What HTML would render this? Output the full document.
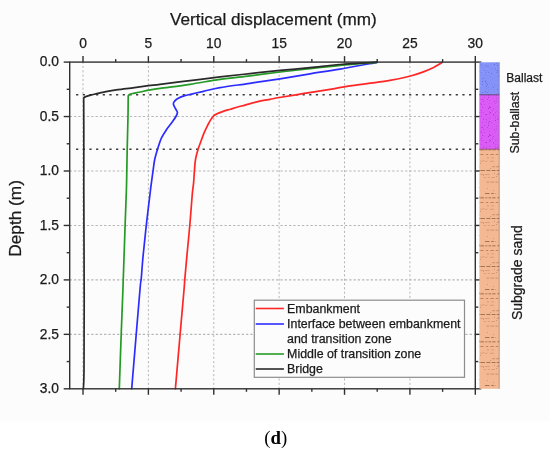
<!DOCTYPE html><html><head><meta charset="utf-8"><style>html,body{margin:0;padding:0;background:#fff;}svg{display:block}</style></head><body>
<svg width="550" height="449" viewBox="0 0 550 449">
<defs>
<pattern id="pb" width="20" height="32" patternUnits="userSpaceOnUse"><rect width="20" height="32" fill="#8593f8"/><rect x="10" y="9" width="1" height="1" fill="#a0a8ff" opacity="0.23"/><rect x="17" y="6" width="1" height="1" fill="#4e5ac8" opacity="0.56"/><rect x="6" y="2" width="1" height="1" fill="#5c68d6" opacity="0.37"/><rect x="7" y="5" width="1" height="1" fill="#a0a8ff" opacity="0.53"/><rect x="3" y="14" width="1" height="1" fill="#5c68d6" opacity="0.22"/><rect x="7" y="2" width="1" height="1" fill="#6a78e4" opacity="0.37"/><rect x="17" y="7" width="1" height="1" fill="#4e5ac8" opacity="0.24"/><rect x="18" y="12" width="1" height="1" fill="#4e5ac8" opacity="0.42"/><rect x="2" y="3" width="1" height="1" fill="#6a78e4" opacity="0.47"/><rect x="13" y="20" width="1" height="1" fill="#a0a8ff" opacity="0.34"/><rect x="7" y="11" width="1" height="1" fill="#6a78e4" opacity="0.43"/><rect x="16" y="31" width="1" height="1" fill="#4e5ac8" opacity="0.32"/><rect x="2" y="7" width="1" height="1" fill="#a0a8ff" opacity="0.50"/><rect x="4" y="31" width="1" height="1" fill="#a0a8ff" opacity="0.58"/><rect x="2" y="20" width="1" height="1" fill="#4e5ac8" opacity="0.44"/><rect x="18" y="29" width="1" height="1" fill="#5c68d6" opacity="0.58"/><rect x="15" y="4" width="1" height="1" fill="#5c68d6" opacity="0.46"/><rect x="14" y="18" width="1" height="1" fill="#a0a8ff" opacity="0.21"/><rect x="14" y="22" width="1" height="1" fill="#6a78e4" opacity="0.40"/><rect x="6" y="18" width="1" height="1" fill="#6a78e4" opacity="0.36"/><rect x="15" y="5" width="1" height="1" fill="#6a78e4" opacity="0.36"/><rect x="8" y="8" width="1" height="1" fill="#a0a8ff" opacity="0.48"/><rect x="11" y="24" width="1" height="1" fill="#6a78e4" opacity="0.23"/><rect x="4" y="14" width="1" height="1" fill="#6a78e4" opacity="0.39"/><rect x="18" y="11" width="1" height="1" fill="#4e5ac8" opacity="0.20"/><rect x="13" y="23" width="1" height="1" fill="#4e5ac8" opacity="0.48"/><rect x="16" y="3" width="1" height="1" fill="#a0a8ff" opacity="0.36"/><rect x="12" y="6" width="1" height="1" fill="#a0a8ff" opacity="0.22"/><rect x="2" y="13" width="1" height="1" fill="#a0a8ff" opacity="0.24"/><rect x="19" y="3" width="1" height="1" fill="#5c68d6" opacity="0.43"/><rect x="17" y="6" width="1" height="1" fill="#4e5ac8" opacity="0.23"/><rect x="6" y="24" width="1" height="1" fill="#6a78e4" opacity="0.58"/><rect x="19" y="23" width="1" height="1" fill="#a0a8ff" opacity="0.25"/><rect x="15" y="29" width="1" height="1" fill="#a0a8ff" opacity="0.32"/><rect x="4" y="6" width="1" height="1" fill="#4e5ac8" opacity="0.39"/><rect x="5" y="1" width="1" height="1" fill="#6a78e4" opacity="0.26"/><rect x="17" y="1" width="1" height="1" fill="#4e5ac8" opacity="0.48"/><rect x="8" y="23" width="1" height="1" fill="#6a78e4" opacity="0.51"/><rect x="17" y="21" width="1" height="1" fill="#6a78e4" opacity="0.52"/><rect x="12" y="14" width="1" height="1" fill="#6a78e4" opacity="0.34"/><rect x="0" y="1" width="1" height="1" fill="#4e5ac8" opacity="0.30"/><rect x="19" y="22" width="1" height="1" fill="#a0a8ff" opacity="0.58"/><rect x="11" y="5" width="1" height="1" fill="#6a78e4" opacity="0.29"/><rect x="6" y="21" width="1" height="1" fill="#6a78e4" opacity="0.45"/><rect x="19" y="0" width="1" height="1" fill="#a0a8ff" opacity="0.52"/><rect x="2" y="7" width="1" height="1" fill="#a0a8ff" opacity="0.39"/><rect x="5" y="27" width="1" height="1" fill="#4e5ac8" opacity="0.52"/><rect x="12" y="29" width="1" height="1" fill="#a0a8ff" opacity="0.49"/><rect x="5" y="8" width="1" height="1" fill="#5c68d6" opacity="0.44"/><rect x="14" y="9" width="1" height="1" fill="#a0a8ff" opacity="0.26"/><rect x="17" y="8" width="1" height="1" fill="#5c68d6" opacity="0.52"/><rect x="3" y="8" width="1" height="1" fill="#a0a8ff" opacity="0.53"/><rect x="6" y="1" width="1" height="1" fill="#4e5ac8" opacity="0.32"/><rect x="7" y="20" width="1" height="1" fill="#4e5ac8" opacity="0.53"/><rect x="1" y="22" width="1" height="1" fill="#a0a8ff" opacity="0.53"/><rect x="16" y="8" width="1" height="1" fill="#6a78e4" opacity="0.55"/><rect x="5" y="0" width="1" height="1" fill="#6a78e4" opacity="0.26"/><rect x="19" y="7" width="1" height="1" fill="#5c68d6" opacity="0.47"/><rect x="16" y="30" width="1" height="1" fill="#5c68d6" opacity="0.30"/><rect x="8" y="2" width="1" height="1" fill="#5c68d6" opacity="0.42"/><rect x="2" y="28" width="1" height="1" fill="#4e5ac8" opacity="0.48"/><rect x="14" y="30" width="1" height="1" fill="#6a78e4" opacity="0.57"/><rect x="6" y="28" width="1" height="1" fill="#6a78e4" opacity="0.25"/><rect x="14" y="20" width="1" height="1" fill="#5c68d6" opacity="0.37"/><rect x="6" y="19" width="1" height="1" fill="#5c68d6" opacity="0.58"/><rect x="11" y="9" width="1" height="1" fill="#4e5ac8" opacity="0.59"/><rect x="7" y="6" width="1" height="1" fill="#a0a8ff" opacity="0.27"/><rect x="7" y="10" width="1" height="1" fill="#a0a8ff" opacity="0.34"/><rect x="6" y="22" width="1" height="1" fill="#4e5ac8" opacity="0.49"/><rect x="0" y="21" width="1" height="1" fill="#a0a8ff" opacity="0.48"/><rect x="12" y="21" width="1" height="1" fill="#4e5ac8" opacity="0.25"/><rect x="7" y="6" width="1" height="1" fill="#5c68d6" opacity="0.31"/><rect x="5" y="17" width="1" height="1" fill="#6a78e4" opacity="0.54"/><rect x="8" y="25" width="1" height="1" fill="#6a78e4" opacity="0.48"/><rect x="2" y="17" width="1" height="1" fill="#5c68d6" opacity="0.37"/><rect x="2" y="17" width="1" height="1" fill="#5c68d6" opacity="0.52"/><rect x="2" y="14" width="1" height="1" fill="#5c68d6" opacity="0.55"/><rect x="14" y="0" width="1" height="1" fill="#4e5ac8" opacity="0.57"/><rect x="8" y="8" width="1" height="1" fill="#5c68d6" opacity="0.58"/><rect x="5" y="16" width="1" height="1" fill="#5c68d6" opacity="0.28"/><rect x="9" y="19" width="1" height="1" fill="#6a78e4" opacity="0.38"/><rect x="5" y="17" width="1" height="1" fill="#4e5ac8" opacity="0.60"/><rect x="1" y="0" width="1" height="1" fill="#5c68d6" opacity="0.41"/><rect x="7" y="28" width="1" height="1" fill="#5c68d6" opacity="0.46"/><rect x="17" y="25" width="1" height="1" fill="#4e5ac8" opacity="0.59"/><rect x="10" y="12" width="1" height="1" fill="#6a78e4" opacity="0.60"/><rect x="1" y="8" width="1" height="1" fill="#5c68d6" opacity="0.45"/><rect x="8" y="27" width="1" height="1" fill="#6a78e4" opacity="0.23"/><rect x="12" y="18" width="1" height="1" fill="#6a78e4" opacity="0.22"/><rect x="5" y="10" width="1" height="1" fill="#4e5ac8" opacity="0.20"/></pattern>
<pattern id="pm" width="20" height="28" patternUnits="userSpaceOnUse"><rect width="20" height="28" fill="#da5bf5"/><rect x="11" y="10" width="1" height="1" fill="#7a2696" opacity="0.21"/><rect x="9" y="6" width="1" height="1" fill="#7a2696" opacity="0.20"/><rect x="12" y="2" width="1" height="1" fill="#e070ff" opacity="0.40"/><rect x="6" y="7" width="1" height="1" fill="#8a2aa8" opacity="0.31"/><rect x="2" y="4" width="1" height="1" fill="#e070ff" opacity="0.36"/><rect x="9" y="9" width="1" height="1" fill="#9d3cbc" opacity="0.43"/><rect x="16" y="27" width="1" height="1" fill="#9d3cbc" opacity="0.51"/><rect x="15" y="4" width="1" height="1" fill="#7a2696" opacity="0.22"/><rect x="16" y="20" width="1" height="1" fill="#e070ff" opacity="0.56"/><rect x="16" y="18" width="1" height="1" fill="#8a2aa8" opacity="0.23"/><rect x="1" y="4" width="1" height="1" fill="#7a2696" opacity="0.35"/><rect x="14" y="17" width="1" height="1" fill="#8a2aa8" opacity="0.45"/><rect x="7" y="15" width="1" height="1" fill="#7a2696" opacity="0.38"/><rect x="2" y="23" width="1" height="1" fill="#8a2aa8" opacity="0.50"/><rect x="15" y="8" width="1" height="1" fill="#8a2aa8" opacity="0.29"/><rect x="6" y="7" width="1" height="1" fill="#e070ff" opacity="0.54"/><rect x="2" y="15" width="1" height="1" fill="#7a2696" opacity="0.45"/><rect x="6" y="2" width="1" height="1" fill="#9d3cbc" opacity="0.30"/><rect x="9" y="19" width="1" height="1" fill="#9d3cbc" opacity="0.39"/><rect x="15" y="8" width="1" height="1" fill="#8a2aa8" opacity="0.47"/><rect x="9" y="22" width="1" height="1" fill="#7a2696" opacity="0.39"/><rect x="3" y="17" width="1" height="1" fill="#9d3cbc" opacity="0.59"/><rect x="15" y="0" width="1" height="1" fill="#7a2696" opacity="0.23"/><rect x="16" y="14" width="1" height="1" fill="#7a2696" opacity="0.28"/><rect x="6" y="2" width="1" height="1" fill="#8a2aa8" opacity="0.50"/><rect x="8" y="11" width="1" height="1" fill="#9d3cbc" opacity="0.55"/><rect x="11" y="7" width="1" height="1" fill="#e070ff" opacity="0.36"/><rect x="5" y="0" width="1" height="1" fill="#e070ff" opacity="0.36"/><rect x="4" y="13" width="1" height="1" fill="#7a2696" opacity="0.33"/><rect x="10" y="0" width="1" height="1" fill="#7a2696" opacity="0.54"/><rect x="3" y="6" width="1" height="1" fill="#8a2aa8" opacity="0.30"/><rect x="2" y="12" width="1" height="1" fill="#e070ff" opacity="0.34"/><rect x="13" y="24" width="1" height="1" fill="#7a2696" opacity="0.31"/><rect x="1" y="26" width="1" height="1" fill="#7a2696" opacity="0.30"/><rect x="8" y="13" width="1" height="1" fill="#7a2696" opacity="0.51"/><rect x="13" y="0" width="1" height="1" fill="#e070ff" opacity="0.49"/><rect x="1" y="23" width="1" height="1" fill="#e070ff" opacity="0.45"/><rect x="4" y="20" width="1" height="1" fill="#7a2696" opacity="0.22"/><rect x="17" y="4" width="1" height="1" fill="#9d3cbc" opacity="0.37"/><rect x="9" y="9" width="1" height="1" fill="#7a2696" opacity="0.36"/><rect x="7" y="9" width="1" height="1" fill="#e070ff" opacity="0.25"/><rect x="5" y="2" width="1" height="1" fill="#9d3cbc" opacity="0.42"/><rect x="14" y="10" width="1" height="1" fill="#e070ff" opacity="0.26"/><rect x="6" y="7" width="1" height="1" fill="#8a2aa8" opacity="0.34"/><rect x="2" y="10" width="1" height="1" fill="#9d3cbc" opacity="0.30"/><rect x="18" y="6" width="1" height="1" fill="#8a2aa8" opacity="0.35"/><rect x="16" y="6" width="1" height="1" fill="#e070ff" opacity="0.34"/><rect x="1" y="15" width="1" height="1" fill="#7a2696" opacity="0.25"/><rect x="16" y="16" width="1" height="1" fill="#9d3cbc" opacity="0.31"/><rect x="7" y="12" width="1" height="1" fill="#e070ff" opacity="0.37"/><rect x="9" y="27" width="1" height="1" fill="#8a2aa8" opacity="0.21"/><rect x="15" y="18" width="1" height="1" fill="#e070ff" opacity="0.23"/><rect x="16" y="27" width="1" height="1" fill="#e070ff" opacity="0.30"/><rect x="3" y="7" width="1" height="1" fill="#9d3cbc" opacity="0.41"/><rect x="3" y="26" width="1" height="1" fill="#e070ff" opacity="0.42"/><rect x="1" y="0" width="1" height="1" fill="#9d3cbc" opacity="0.43"/><rect x="1" y="20" width="1" height="1" fill="#7a2696" opacity="0.45"/><rect x="16" y="20" width="1" height="1" fill="#e070ff" opacity="0.24"/><rect x="9" y="16" width="1" height="1" fill="#9d3cbc" opacity="0.30"/><rect x="19" y="0" width="1" height="1" fill="#8a2aa8" opacity="0.60"/><rect x="8" y="10" width="1" height="1" fill="#9d3cbc" opacity="0.41"/><rect x="17" y="7" width="1" height="1" fill="#8a2aa8" opacity="0.48"/><rect x="9" y="1" width="1" height="1" fill="#8a2aa8" opacity="0.40"/><rect x="13" y="2" width="1" height="1" fill="#7a2696" opacity="0.47"/><rect x="11" y="7" width="1" height="1" fill="#e070ff" opacity="0.48"/><rect x="13" y="11" width="1" height="1" fill="#e070ff" opacity="0.20"/><rect x="9" y="23" width="1" height="1" fill="#8a2aa8" opacity="0.40"/><rect x="6" y="9" width="1" height="1" fill="#9d3cbc" opacity="0.39"/><rect x="8" y="24" width="1" height="1" fill="#7a2696" opacity="0.58"/><rect x="15" y="19" width="1" height="1" fill="#9d3cbc" opacity="0.39"/><rect x="1" y="19" width="1" height="1" fill="#9d3cbc" opacity="0.22"/><rect x="0" y="19" width="1" height="1" fill="#9d3cbc" opacity="0.22"/><rect x="1" y="5" width="1" height="1" fill="#e070ff" opacity="0.56"/><rect x="10" y="23" width="1" height="1" fill="#8a2aa8" opacity="0.57"/><rect x="10" y="6" width="1" height="1" fill="#9d3cbc" opacity="0.21"/><rect x="12" y="26" width="1" height="1" fill="#7a2696" opacity="0.38"/><rect x="3" y="0" width="1" height="1" fill="#8a2aa8" opacity="0.23"/><rect x="13" y="3" width="1" height="1" fill="#9d3cbc" opacity="0.34"/><rect x="9" y="26" width="1" height="1" fill="#e070ff" opacity="0.22"/><rect x="15" y="6" width="1" height="1" fill="#7a2696" opacity="0.28"/></pattern>
<pattern id="ps" width="20" height="48" patternUnits="userSpaceOnUse"><rect width="20" height="48" fill="#f4b993"/><rect x="5.0" y="1.0" width="4.4" height="0.9" fill="#84573a" opacity="0.8"/><rect x="11.3" y="1.0" width="2.6" height="0.9" fill="#84573a" opacity="0.8"/><rect x="0.2" y="5.4" width="4.0" height="0.9" fill="#84573a" opacity="0.8"/><rect x="5.4" y="5.4" width="2.0" height="0.9" fill="#84573a" opacity="0.8"/><rect x="8.5" y="5.4" width="2.6" height="0.9" fill="#84573a" opacity="0.8"/><rect x="12.1" y="5.4" width="3.4" height="0.9" fill="#84573a" opacity="0.8"/><rect x="17.8" y="5.4" width="3.6" height="0.9" fill="#84573a" opacity="0.8"/><rect x="0.4" y="10.0" width="3.2" height="0.9" fill="#84573a" opacity="0.6"/><rect x="6.0" y="10.0" width="2.2" height="0.9" fill="#84573a" opacity="0.6"/><rect x="10.4" y="10.0" width="3.5" height="0.9" fill="#84573a" opacity="0.6"/><rect x="15.8" y="10.0" width="2.3" height="0.9" fill="#84573a" opacity="0.6"/><rect x="19.5" y="10.0" width="2.2" height="0.9" fill="#84573a" opacity="0.6"/><rect x="6.8" y="13.4" width="2.2" height="0.9" fill="#84573a" opacity="0.3"/><rect x="11.2" y="13.4" width="2.8" height="0.9" fill="#84573a" opacity="0.3"/><rect x="-0.7" y="16.8" width="3.4" height="0.9" fill="#84573a" opacity="0.3"/><rect x="4.7" y="16.8" width="2.6" height="0.9" fill="#84573a" opacity="0.3"/><rect x="9.8" y="16.8" width="4.3" height="0.9" fill="#84573a" opacity="0.3"/><rect x="12.1" y="22.3" width="2.9" height="0.9" fill="#84573a" opacity="0.45"/><rect x="16.1" y="22.3" width="3.7" height="0.9" fill="#84573a" opacity="0.45"/><rect x="0.4" y="26.1" width="4.5" height="0.9" fill="#84573a" opacity="0.8"/><rect x="6.4" y="26.1" width="3.9" height="0.9" fill="#84573a" opacity="0.8"/><rect x="11.7" y="26.1" width="3.8" height="0.9" fill="#84573a" opacity="0.8"/><rect x="16.7" y="26.1" width="3.9" height="0.9" fill="#84573a" opacity="0.8"/><rect x="0.4" y="30.0" width="3.3" height="0.9" fill="#84573a" opacity="0.3"/><rect x="4.8" y="30.0" width="4.9" height="0.9" fill="#84573a" opacity="0.3"/><rect x="16.4" y="30.0" width="2.9" height="0.9" fill="#84573a" opacity="0.3"/><rect x="3.8" y="33.0" width="2.0" height="0.9" fill="#84573a" opacity="0.3"/><rect x="7.6" y="33.0" width="2.2" height="0.9" fill="#84573a" opacity="0.3"/><rect x="11.3" y="33.0" width="3.7" height="0.9" fill="#84573a" opacity="0.3"/><rect x="6.2" y="37.6" width="3.1" height="0.9" fill="#84573a" opacity="0.45"/><rect x="10.4" y="37.6" width="3.8" height="0.9" fill="#84573a" opacity="0.45"/><rect x="15.3" y="37.6" width="2.9" height="0.9" fill="#84573a" opacity="0.45"/><rect x="19.3" y="37.6" width="3.4" height="0.9" fill="#84573a" opacity="0.45"/><rect x="19.0" y="43.0" width="3.7" height="0.9" fill="#84573a" opacity="0.45"/><rect x="19" y="4" width="1" height="1" fill="#9a6a48" opacity="0.4"/><rect x="2" y="5" width="1" height="1" fill="#9a6a48" opacity="0.4"/><rect x="3" y="16" width="1" height="1" fill="#9a6a48" opacity="0.4"/><rect x="13" y="46" width="1" height="1" fill="#9a6a48" opacity="0.4"/><rect x="10" y="24" width="1" height="1" fill="#9a6a48" opacity="0.4"/><rect x="18" y="29" width="1" height="1" fill="#9a6a48" opacity="0.4"/><rect x="14" y="29" width="1" height="1" fill="#9a6a48" opacity="0.4"/><rect x="17" y="5" width="1" height="1" fill="#9a6a48" opacity="0.4"/><rect x="16" y="32" width="1" height="1" fill="#9a6a48" opacity="0.4"/><rect x="0" y="19" width="1" height="1" fill="#9a6a48" opacity="0.4"/><rect x="19" y="5" width="1" height="1" fill="#9a6a48" opacity="0.4"/><rect x="15" y="1" width="1" height="1" fill="#9a6a48" opacity="0.4"/><rect x="7" y="44" width="1" height="1" fill="#9a6a48" opacity="0.4"/><rect x="3" y="31" width="1" height="1" fill="#9a6a48" opacity="0.4"/></pattern>
</defs>
<rect x="0" y="0" width="550" height="421.5" fill="#fcfcfc"/>
<line x1="83.00" y1="62.1" x2="83.00" y2="388.8" stroke="#b6b6b6" stroke-width="1" stroke-dasharray="2.1,2.24" stroke-dashoffset="0.5"/>
<line x1="148.38" y1="62.1" x2="148.38" y2="388.8" stroke="#b6b6b6" stroke-width="1" stroke-dasharray="2.1,2.24" stroke-dashoffset="0.5"/>
<line x1="213.77" y1="62.1" x2="213.77" y2="388.8" stroke="#b6b6b6" stroke-width="1" stroke-dasharray="2.1,2.24" stroke-dashoffset="0.5"/>
<line x1="279.15" y1="62.1" x2="279.15" y2="388.8" stroke="#b6b6b6" stroke-width="1" stroke-dasharray="2.1,2.24" stroke-dashoffset="0.5"/>
<line x1="344.53" y1="62.1" x2="344.53" y2="388.8" stroke="#b6b6b6" stroke-width="1" stroke-dasharray="2.1,2.24" stroke-dashoffset="0.5"/>
<line x1="409.92" y1="62.1" x2="409.92" y2="388.8" stroke="#b6b6b6" stroke-width="1" stroke-dasharray="2.1,2.24" stroke-dashoffset="0.5"/>
<line x1="69.7" y1="116.55" x2="475.3" y2="116.55" stroke="#b6b6b6" stroke-width="1.1" stroke-dasharray="2.3,2.0" stroke-dashoffset="0"/>
<line x1="69.7" y1="171.00" x2="475.3" y2="171.00" stroke="#b6b6b6" stroke-width="1.1" stroke-dasharray="2.3,2.0" stroke-dashoffset="0"/>
<line x1="69.7" y1="225.45" x2="475.3" y2="225.45" stroke="#b6b6b6" stroke-width="1.1" stroke-dasharray="2.3,2.0" stroke-dashoffset="0"/>
<line x1="69.7" y1="279.90" x2="475.3" y2="279.90" stroke="#b6b6b6" stroke-width="1.1" stroke-dasharray="2.3,2.0" stroke-dashoffset="0"/>
<line x1="69.7" y1="334.35" x2="475.3" y2="334.35" stroke="#b6b6b6" stroke-width="1.1" stroke-dasharray="2.3,2.0" stroke-dashoffset="0"/>
<line x1="76.1" y1="94.77" x2="472" y2="94.77" stroke="#3a3a3a" stroke-width="1.6" stroke-dasharray="2.2,4.46"/>
<line x1="76.1" y1="149.22" x2="472" y2="149.22" stroke="#3a3a3a" stroke-width="1.6" stroke-dasharray="2.2,4.46"/>
<path d="M442.10,62.40 C441.42,62.82 439.42,64.07 438.00,64.90 C436.58,65.73 436.15,66.20 433.60,67.40 C431.05,68.60 426.70,70.63 422.70,72.10 C418.70,73.57 415.05,74.82 409.60,76.20 C404.15,77.58 397.10,79.17 390.00,80.40 C382.90,81.63 374.63,82.53 367.00,83.60 C359.37,84.67 350.37,85.85 344.20,86.80 C338.03,87.75 336.92,88.15 330.00,89.30 C323.08,90.45 311.15,92.33 302.70,93.70 C294.25,95.07 284.75,96.57 279.30,97.50 C273.85,98.43 273.72,98.57 270.00,99.30 C266.28,100.03 261.17,100.93 257.00,101.90 C252.83,102.87 248.22,104.25 245.00,105.10 C241.78,105.95 240.12,106.32 237.70,107.00 C235.28,107.68 232.92,108.47 230.50,109.20 C228.08,109.93 225.38,110.67 223.20,111.40 C221.02,112.13 218.98,112.87 217.40,113.60 C215.82,114.33 214.80,114.80 213.70,115.80 C212.60,116.80 211.78,118.07 210.80,119.60 C209.82,121.13 208.88,122.88 207.80,125.00 C206.72,127.12 205.50,129.43 204.30,132.30 C203.10,135.17 201.65,139.33 200.60,142.20 C199.55,145.07 198.85,146.62 198.00,149.50 C197.15,152.38 196.10,155.88 195.50,159.50 C194.90,163.12 194.72,167.32 194.40,171.20 C194.08,175.08 193.97,178.83 193.60,182.80 C193.23,186.77 192.83,187.93 192.20,195.00 C191.57,202.07 190.70,214.90 189.80,225.20 C188.90,235.50 187.63,247.82 186.80,256.80 C185.97,265.78 185.27,273.57 184.80,279.10 C184.33,284.63 184.78,280.77 184.00,290.00 C183.22,299.23 181.53,318.03 180.10,334.50 C178.67,350.97 176.18,379.75 175.40,388.80" fill="none" stroke="#ff2626" stroke-width="1.7" stroke-linejoin="round" stroke-linecap="round"/>
<path d="M377.10,62.30 C370.92,63.43 351.18,67.18 340.00,69.10 C328.82,71.02 320.00,72.18 310.00,73.80 C300.00,75.42 290.00,77.22 280.00,78.80 C270.00,80.38 260.00,81.83 250.00,83.30 C240.00,84.77 227.73,86.27 220.00,87.60 C212.27,88.93 208.15,90.27 203.60,91.30 C199.05,92.33 195.97,93.03 192.70,93.80 C189.43,94.57 186.55,95.07 184.00,95.90 C181.45,96.73 179.02,97.85 177.40,98.80 C175.78,99.75 174.97,100.70 174.30,101.60 C173.63,102.50 173.25,103.10 173.40,104.20 C173.55,105.30 174.53,106.85 175.20,108.20 C175.87,109.55 177.23,111.00 177.40,112.30 C177.57,113.60 177.03,114.42 176.20,116.00 C175.37,117.58 173.95,119.62 172.40,121.80 C170.85,123.98 168.72,126.43 166.90,129.10 C165.08,131.77 163.03,134.53 161.50,137.80 C159.97,141.07 158.83,145.08 157.70,148.70 C156.57,152.32 155.48,155.75 154.70,159.50 C153.92,163.25 153.55,167.32 153.00,171.20 C152.45,175.08 151.82,179.67 151.40,182.80 C150.98,185.93 151.35,182.93 150.50,190.00 C149.65,197.07 147.55,214.07 146.30,225.20 C145.05,236.33 143.85,247.82 143.00,256.80 C142.15,265.78 141.67,274.07 141.20,279.10 C140.73,284.13 141.03,277.77 140.20,287.00 C139.37,296.23 137.62,317.53 136.20,334.50 C134.78,351.47 132.45,379.75 131.70,388.80" fill="none" stroke="#2c2cff" stroke-width="1.7" stroke-linejoin="round" stroke-linecap="round"/>
<path d="M377.10,62.30 C370.92,62.80 351.18,64.23 340.00,65.30 C328.82,66.37 320.00,67.58 310.00,68.70 C300.00,69.82 290.00,70.82 280.00,72.00 C270.00,73.18 260.00,74.57 250.00,75.80 C240.00,77.03 230.00,77.98 220.00,79.40 C210.00,80.82 200.00,82.80 190.00,84.30 C180.00,85.80 166.93,87.42 160.00,88.40 C153.07,89.38 151.67,89.60 148.40,90.20 C145.13,90.80 143.07,91.45 140.40,92.00 C137.73,92.55 134.17,93.12 132.40,93.50 C130.63,93.88 130.47,93.92 129.80,94.30 C129.13,94.68 128.67,95.18 128.40,95.80 C128.13,96.42 128.27,94.63 128.20,98.00 C128.13,101.37 128.17,107.50 128.00,116.00 C127.83,124.50 127.40,139.83 127.20,149.00 C127.00,158.17 126.93,164.17 126.80,171.00 C126.67,177.83 126.68,180.97 126.40,190.00 C126.12,199.03 125.68,208.53 125.10,225.20 C124.52,241.87 123.55,271.78 122.90,290.00 C122.25,308.22 121.80,318.03 121.20,334.50 C120.60,350.97 119.62,379.75 119.30,388.80" fill="none" stroke="#259a25" stroke-width="1.7" stroke-linejoin="round" stroke-linecap="round"/>
<path d="M377.10,62.20 C370.92,62.58 351.18,63.58 340.00,64.50 C328.82,65.42 320.00,66.72 310.00,67.70 C300.00,68.68 290.00,69.42 280.00,70.40 C270.00,71.38 260.00,72.52 250.00,73.60 C240.00,74.68 230.00,75.73 220.00,76.90 C210.00,78.07 200.00,79.37 190.00,80.60 C180.00,81.83 166.93,83.45 160.00,84.30 C153.07,85.15 152.65,85.15 148.40,85.70 C144.15,86.25 139.57,86.95 134.50,87.60 C129.43,88.25 122.08,89.05 118.00,89.60 C113.92,90.15 112.55,90.45 110.00,90.90 C107.45,91.35 104.88,91.83 102.70,92.30 C100.52,92.77 98.90,93.23 96.90,93.70 C94.90,94.17 92.55,94.62 90.70,95.10 C88.85,95.58 86.92,96.18 85.80,96.60 C84.68,97.02 84.35,97.20 84.00,97.60 C83.65,98.00 83.75,98.43 83.70,99.00 C83.65,99.57 83.68,95.83 83.70,101.00 C83.72,106.17 83.78,115.17 83.80,130.00 C83.82,144.83 83.73,161.67 83.80,190.00 C83.87,218.33 84.17,270.00 84.20,300.00 C84.23,330.00 84.13,355.20 84.00,370.00 C83.87,384.80 83.50,385.67 83.40,388.80" fill="none" stroke="#2a2a2a" stroke-width="1.7" stroke-linejoin="round" stroke-linecap="round"/>
<rect x="254.3" y="300.2" width="210.2" height="77.1" fill="#fcfcfc" stroke="#8c8c8c" stroke-width="1.2"/>
<line x1="255.7" y1="308.5" x2="283.9" y2="308.5" stroke="#ff2626" stroke-width="1.6"/>
<line x1="255.7" y1="324" x2="283.9" y2="324" stroke="#2c2cff" stroke-width="1.6"/>
<line x1="255.7" y1="354" x2="283.9" y2="354" stroke="#259a25" stroke-width="1.6"/>
<line x1="255.7" y1="369" x2="283.9" y2="369" stroke="#2a2a2a" stroke-width="1.6"/>
<text x="287.1" y="312.8" font-family="Liberation Sans, Arial, sans-serif" stroke="#1a1a1a" stroke-width="0.25" font-size="12.38" fill="#1a1a1a">Embankment</text>
<text x="287.1" y="328.1" font-family="Liberation Sans, Arial, sans-serif" stroke="#1a1a1a" stroke-width="0.25" font-size="12.38" fill="#1a1a1a">Interface between embankment</text>
<text x="287.1" y="342.9" font-family="Liberation Sans, Arial, sans-serif" stroke="#1a1a1a" stroke-width="0.25" font-size="12.38" fill="#1a1a1a">and transition zone</text>
<text x="287.1" y="357.9" font-family="Liberation Sans, Arial, sans-serif" stroke="#1a1a1a" stroke-width="0.25" font-size="12.38" fill="#1a1a1a">Middle of transition zone</text>
<text x="287.1" y="372.9" font-family="Liberation Sans, Arial, sans-serif" stroke="#1a1a1a" stroke-width="0.25" font-size="12.38" fill="#1a1a1a">Bridge</text>
<rect x="69.7" y="62.1" width="405.60" height="326.70" fill="none" stroke="#303030" stroke-width="1.4"/>
<line x1="83.00" y1="62.1" x2="83.00" y2="56.1" stroke="#303030" stroke-width="1.4"/>
<line x1="83.00" y1="388.8" x2="83.00" y2="394.8" stroke="#303030" stroke-width="1.4"/>
<line x1="115.69" y1="62.1" x2="115.69" y2="59.1" stroke="#303030" stroke-width="1.4"/>
<line x1="115.69" y1="388.8" x2="115.69" y2="391.8" stroke="#303030" stroke-width="1.4"/>
<line x1="148.38" y1="62.1" x2="148.38" y2="56.1" stroke="#303030" stroke-width="1.4"/>
<line x1="148.38" y1="388.8" x2="148.38" y2="394.8" stroke="#303030" stroke-width="1.4"/>
<line x1="181.07" y1="62.1" x2="181.07" y2="59.1" stroke="#303030" stroke-width="1.4"/>
<line x1="181.07" y1="388.8" x2="181.07" y2="391.8" stroke="#303030" stroke-width="1.4"/>
<line x1="213.77" y1="62.1" x2="213.77" y2="56.1" stroke="#303030" stroke-width="1.4"/>
<line x1="213.77" y1="388.8" x2="213.77" y2="394.8" stroke="#303030" stroke-width="1.4"/>
<line x1="246.46" y1="62.1" x2="246.46" y2="59.1" stroke="#303030" stroke-width="1.4"/>
<line x1="246.46" y1="388.8" x2="246.46" y2="391.8" stroke="#303030" stroke-width="1.4"/>
<line x1="279.15" y1="62.1" x2="279.15" y2="56.1" stroke="#303030" stroke-width="1.4"/>
<line x1="279.15" y1="388.8" x2="279.15" y2="394.8" stroke="#303030" stroke-width="1.4"/>
<line x1="311.84" y1="62.1" x2="311.84" y2="59.1" stroke="#303030" stroke-width="1.4"/>
<line x1="311.84" y1="388.8" x2="311.84" y2="391.8" stroke="#303030" stroke-width="1.4"/>
<line x1="344.53" y1="62.1" x2="344.53" y2="56.1" stroke="#303030" stroke-width="1.4"/>
<line x1="344.53" y1="388.8" x2="344.53" y2="394.8" stroke="#303030" stroke-width="1.4"/>
<line x1="377.22" y1="62.1" x2="377.22" y2="59.1" stroke="#303030" stroke-width="1.4"/>
<line x1="377.22" y1="388.8" x2="377.22" y2="391.8" stroke="#303030" stroke-width="1.4"/>
<line x1="409.92" y1="62.1" x2="409.92" y2="56.1" stroke="#303030" stroke-width="1.4"/>
<line x1="409.92" y1="388.8" x2="409.92" y2="394.8" stroke="#303030" stroke-width="1.4"/>
<line x1="442.61" y1="62.1" x2="442.61" y2="59.1" stroke="#303030" stroke-width="1.4"/>
<line x1="442.61" y1="388.8" x2="442.61" y2="391.8" stroke="#303030" stroke-width="1.4"/>
<line x1="475.30" y1="62.1" x2="475.30" y2="56.1" stroke="#303030" stroke-width="1.4"/>
<line x1="475.30" y1="388.8" x2="475.30" y2="394.8" stroke="#303030" stroke-width="1.4"/>
<line x1="69.7" y1="62.10" x2="63.7" y2="62.10" stroke="#303030" stroke-width="1.4"/>
<line x1="475.3" y1="62.10" x2="481.3" y2="62.10" stroke="#303030" stroke-width="1.4"/>
<line x1="69.7" y1="89.33" x2="66.7" y2="89.33" stroke="#303030" stroke-width="1.4"/>
<line x1="475.3" y1="89.33" x2="478.3" y2="89.33" stroke="#303030" stroke-width="1.4"/>
<line x1="69.7" y1="116.55" x2="63.7" y2="116.55" stroke="#303030" stroke-width="1.4"/>
<line x1="475.3" y1="116.55" x2="481.3" y2="116.55" stroke="#303030" stroke-width="1.4"/>
<line x1="69.7" y1="143.78" x2="66.7" y2="143.78" stroke="#303030" stroke-width="1.4"/>
<line x1="475.3" y1="143.78" x2="478.3" y2="143.78" stroke="#303030" stroke-width="1.4"/>
<line x1="69.7" y1="171.00" x2="63.7" y2="171.00" stroke="#303030" stroke-width="1.4"/>
<line x1="475.3" y1="171.00" x2="481.3" y2="171.00" stroke="#303030" stroke-width="1.4"/>
<line x1="69.7" y1="198.22" x2="66.7" y2="198.22" stroke="#303030" stroke-width="1.4"/>
<line x1="475.3" y1="198.22" x2="478.3" y2="198.22" stroke="#303030" stroke-width="1.4"/>
<line x1="69.7" y1="225.45" x2="63.7" y2="225.45" stroke="#303030" stroke-width="1.4"/>
<line x1="475.3" y1="225.45" x2="481.3" y2="225.45" stroke="#303030" stroke-width="1.4"/>
<line x1="69.7" y1="252.67" x2="66.7" y2="252.67" stroke="#303030" stroke-width="1.4"/>
<line x1="475.3" y1="252.67" x2="478.3" y2="252.67" stroke="#303030" stroke-width="1.4"/>
<line x1="69.7" y1="279.90" x2="63.7" y2="279.90" stroke="#303030" stroke-width="1.4"/>
<line x1="475.3" y1="279.90" x2="481.3" y2="279.90" stroke="#303030" stroke-width="1.4"/>
<line x1="69.7" y1="307.12" x2="66.7" y2="307.12" stroke="#303030" stroke-width="1.4"/>
<line x1="475.3" y1="307.12" x2="478.3" y2="307.12" stroke="#303030" stroke-width="1.4"/>
<line x1="69.7" y1="334.35" x2="63.7" y2="334.35" stroke="#303030" stroke-width="1.4"/>
<line x1="475.3" y1="334.35" x2="481.3" y2="334.35" stroke="#303030" stroke-width="1.4"/>
<line x1="69.7" y1="361.57" x2="66.7" y2="361.57" stroke="#303030" stroke-width="1.4"/>
<line x1="475.3" y1="361.57" x2="478.3" y2="361.57" stroke="#303030" stroke-width="1.4"/>
<line x1="69.7" y1="388.80" x2="63.7" y2="388.80" stroke="#303030" stroke-width="1.4"/>
<line x1="475.3" y1="388.80" x2="481.3" y2="388.80" stroke="#303030" stroke-width="1.4"/>
<rect x="479.4" y="62.3" width="20" height="32.47" fill="url(#pb)"/>
<rect x="479.4" y="94.77" width="20" height="54.45" fill="url(#pm)"/>
<rect x="479.4" y="149.22" width="20" height="239.58" fill="url(#ps)"/>
<line x1="479.4" y1="94.77" x2="499.4" y2="94.77" stroke="#443366" stroke-width="0.8"/>
<line x1="479.4" y1="149.22" x2="499.4" y2="149.22" stroke="#884466" stroke-width="0.8"/>
<line x1="499.2" y1="62.3" x2="499.2" y2="388.8" stroke="#777" stroke-width="0.6"/>
<text x="83.00" y="48" font-family="Liberation Sans, Arial, sans-serif" stroke="#1a1a1a" stroke-width="0.25" font-size="13.8" fill="#1a1a1a" text-anchor="middle">0</text>
<text x="148.38" y="48" font-family="Liberation Sans, Arial, sans-serif" stroke="#1a1a1a" stroke-width="0.25" font-size="13.8" fill="#1a1a1a" text-anchor="middle">5</text>
<text x="213.77" y="48" font-family="Liberation Sans, Arial, sans-serif" stroke="#1a1a1a" stroke-width="0.25" font-size="13.8" fill="#1a1a1a" text-anchor="middle">10</text>
<text x="279.15" y="48" font-family="Liberation Sans, Arial, sans-serif" stroke="#1a1a1a" stroke-width="0.25" font-size="13.8" fill="#1a1a1a" text-anchor="middle">15</text>
<text x="344.53" y="48" font-family="Liberation Sans, Arial, sans-serif" stroke="#1a1a1a" stroke-width="0.25" font-size="13.8" fill="#1a1a1a" text-anchor="middle">20</text>
<text x="409.92" y="48" font-family="Liberation Sans, Arial, sans-serif" stroke="#1a1a1a" stroke-width="0.25" font-size="13.8" fill="#1a1a1a" text-anchor="middle">25</text>
<text x="475.30" y="48" font-family="Liberation Sans, Arial, sans-serif" stroke="#1a1a1a" stroke-width="0.25" font-size="13.8" fill="#1a1a1a" text-anchor="middle">30</text>
<text x="59" y="66.40" font-family="Liberation Sans, Arial, sans-serif" stroke="#1a1a1a" stroke-width="0.25" font-size="13.8" fill="#1a1a1a" text-anchor="end">0.0</text>
<text x="59" y="120.85" font-family="Liberation Sans, Arial, sans-serif" stroke="#1a1a1a" stroke-width="0.25" font-size="13.8" fill="#1a1a1a" text-anchor="end">0.5</text>
<text x="59" y="175.30" font-family="Liberation Sans, Arial, sans-serif" stroke="#1a1a1a" stroke-width="0.25" font-size="13.8" fill="#1a1a1a" text-anchor="end">1.0</text>
<text x="59" y="229.75" font-family="Liberation Sans, Arial, sans-serif" stroke="#1a1a1a" stroke-width="0.25" font-size="13.8" fill="#1a1a1a" text-anchor="end">1.5</text>
<text x="59" y="284.20" font-family="Liberation Sans, Arial, sans-serif" stroke="#1a1a1a" stroke-width="0.25" font-size="13.8" fill="#1a1a1a" text-anchor="end">2.0</text>
<text x="59" y="338.65" font-family="Liberation Sans, Arial, sans-serif" stroke="#1a1a1a" stroke-width="0.25" font-size="13.8" fill="#1a1a1a" text-anchor="end">2.5</text>
<text x="59" y="393.10" font-family="Liberation Sans, Arial, sans-serif" stroke="#1a1a1a" stroke-width="0.25" font-size="13.8" fill="#1a1a1a" text-anchor="end">3.0</text>
<text x="273.4" y="25.4" font-family="Liberation Sans, Arial, sans-serif" stroke="#1a1a1a" stroke-width="0.25" font-size="17.15" fill="#1a1a1a" text-anchor="middle">Vertical displacement (mm)</text>
<text transform="translate(21.3,218.4) rotate(-90)" x="0" y="0" font-family="Liberation Sans, Arial, sans-serif" stroke="#1a1a1a" stroke-width="0.25" font-size="17.3" fill="#1a1a1a" text-anchor="middle">Depth (m)</text>
<text x="506.3" y="81.8" font-family="Liberation Sans, Arial, sans-serif" stroke="#1a1a1a" stroke-width="0.25" font-size="12" fill="#1a1a1a">Ballast</text>
<text transform="translate(518.7,122.6) rotate(-90)" x="0" y="0" font-family="Liberation Sans, Arial, sans-serif" stroke="#1a1a1a" stroke-width="0.25" font-size="12.35" fill="#1a1a1a" text-anchor="middle">Sub-ballast</text>
<text transform="translate(521.5,272.6) rotate(-90)" x="0" y="0" font-family="Liberation Sans, Arial, sans-serif" stroke="#1a1a1a" stroke-width="0.25" font-size="14.0" fill="#1a1a1a" text-anchor="middle">Subgrade sand</text>
<text x="275.7" y="443.6" font-family="Liberation Serif, Times New Roman, serif" font-size="18.8" fill="#000" text-anchor="middle">(<tspan font-weight="bold">d</tspan>)</text>
</svg></body></html>
